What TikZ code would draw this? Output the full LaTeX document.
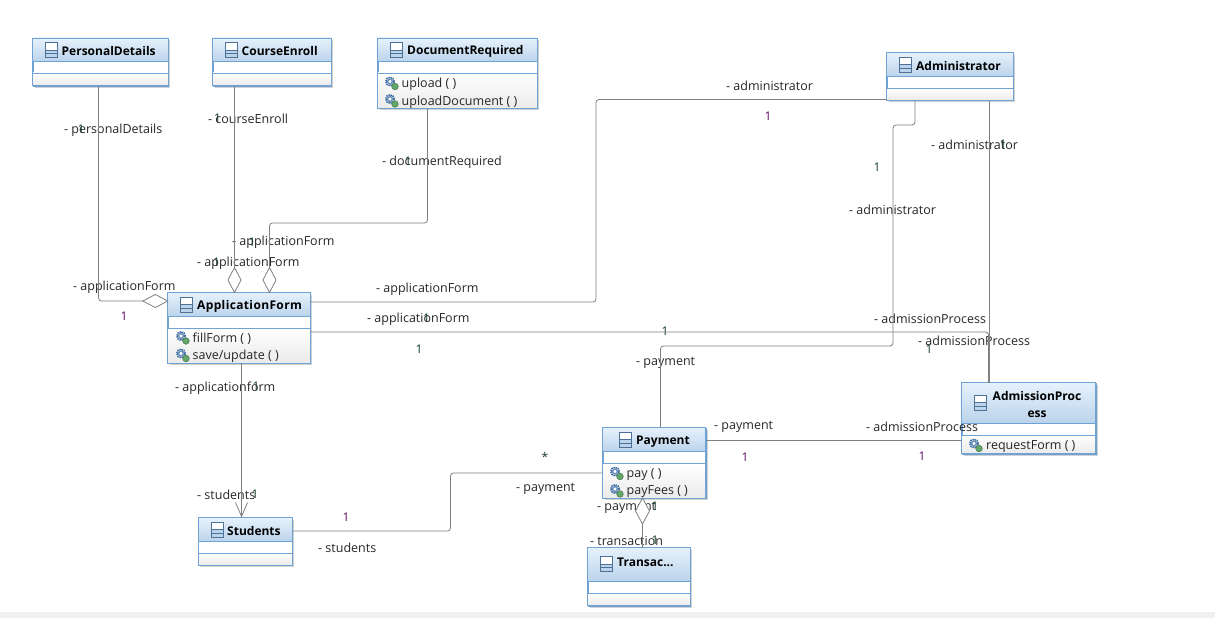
\documentclass[tikz,border=0pt]{standalone}
\usepackage{fontspec}
\setmainfont{Open Sans}
\usetikzlibrary{arrows.meta,shapes.geometric,shadows}

\definecolor{classBorder}{HTML}{6FA3D6}
\definecolor{titleTop}{HTML}{E6F2FC}
\definecolor{titleBottom}{HTML}{BBD3EB}
\definecolor{assocGray}{HTML}{808080}
\definecolor{multPurple}{HTML}{5E0A62}
\definecolor{multGreen}{HTML}{0F3D22}
\definecolor{gearBlue}{HTML}{3F6FA3}
\definecolor{gearGreen}{HTML}{62A868}

\tikzset{
  assoc/.style={draw=assocGray, line width=0.8pt, rounded corners=3pt},
  aggregate/.style={diamond, draw=assocGray, fill=white, line width=0.8pt, inner sep=0pt, outer sep=0pt},
  classBox/.style={draw=classBorder, fill=white, line width=0.9pt, inner sep=0pt, rectangle, anchor=north west,
    drop shadow={shadow xshift=2pt, shadow yshift=-2pt, fill=black, opacity=0.18}},
  classTitle/.style={font=\fontsize{12}{16.5}\selectfont\bfseries, inner sep=0pt, align=center, text=black, yshift=-1pt},
  method/.style={font=\fontsize{12.5}{14}\selectfont, inner sep=0pt, anchor=west, text=black!85, yshift=-1pt},
  role/.style={font=\fontsize{12.5}{14}\selectfont, inner sep=0pt, anchor=west, text=black!85, yshift=-1pt},
  mult/.style={font=\fontsize{12}{13}\selectfont, inner sep=0pt, text=#1},
  mult/.default=multPurple
}

% name, x0, y0, x1, title bottom, line, bottom
\newcommand{\classbox}[7]{
  \pgfmathsetmacro{\boxw}{#4-#2}
  \pgfmathsetmacro{\boxh}{#7-#3}
  \node[classBox, minimum width=\boxw pt, minimum height=\boxh pt] (#1) at (#2,#3) {};
  \fill[top color=titleTop, bottom color=titleBottom] (#2,#3) rectangle (#4,#5);
  \fill[top color=white, bottom color=black!8] (#2,#6) rectangle (#4,#7);
  \draw[classBorder, line width=0.9pt] (#2,#3) rectangle (#4,#7);
  \draw[classBorder, line width=0.9pt] (#2,#5) -- (#4,#5);
  \draw[classBorder, line width=0.9pt] (#2,#6) -- (#4,#6);
}
\newcommand{\classicon}[2]{
  \begin{scope}[shift={(#1,#2)}]
    \fill[white] (0,0) rectangle (12,7.5);
    \fill[titleBottom] (0,7.5) rectangle (12,15);
    \draw[classBorder!70!black, line width=0.8pt] (0,0) rectangle (12,15);
    \draw[classBorder!70!black, line width=0.8pt] (0,7.5) -- (12,7.5) (0,11) -- (12,11);
  \end{scope}
}
% gear centre
\newcommand{\gearicon}[2]{
  \begin{scope}[shift={(#1,#2)}]
    \draw[gearBlue, dash pattern=on 1.4pt off 0.8pt, line width=1.7pt] (0,0) circle (4.2pt);
    \draw[gearBlue!75, line width=1.5pt, fill=white] (0,0) circle (2.4pt);
    \fill[gearGreen, draw=gearGreen!70!black, line width=0.5pt] (5,5) circle (3.3pt);
  \end{scope}
}

\begin{document}
\begin{tikzpicture}[x=1pt, y=-1pt]
\useasboundingbox (0,0) rectangle (1215,618);
\fill[black!6] (0,612) rectangle (1215,618);

% classes
\classbox{personalDetails}{32.5}{38}{168}{61.5}{73}{85.5}
\classicon{45}{42.5}
\node[classTitle, anchor=west] (personalDetailsTitle) at (61.5,50) {PersonalDetails};
\classbox{courseEnroll}{212.5}{38}{331}{61.5}{73}{85.5}
\classicon{225}{42.5}
\node[classTitle, anchor=west] (courseEnrollTitle) at (241.5,50) {CourseEnroll};
\classbox{documentRequired}{377.5}{38}{537}{61.5}{73}{108}
\classicon{390.5}{42.5}
\node[classTitle, anchor=west] (documentRequiredTitle) at (407,50) {DocumentRequired};
\classbox{administrator}{886.5}{52.5}{1013}{76.5}{88}{100}
\classicon{899.5}{57}
\node[classTitle, anchor=west] (administratorTitle) at (916,65) {Administrator};
\classbox{applicationForm}{167.5}{292.5}{310}{316.5}{328}{363}
\classicon{180.5}{297}
\node[classTitle, anchor=west] (applicationFormTitle) at (197,305) {\addfontfeature{LetterSpace=3}ApplicationForm};
\classbox{payment}{602.5}{427.5}{705.5}{451.5}{463}{498}
\classicon{619.5}{432}
\node[classTitle, anchor=west] (paymentTitle) at (636,441) {Payment};
\classbox{students}{198}{517.5}{292}{541.5}{553}{565}
\classicon{211}{522}
\node[classTitle, anchor=west] (studentsTitle) at (227,530) {Students};
\classbox{transaction}{587.5}{547.5}{690}{581.5}{593}{605.5}
\classicon{600.5}{556.5}
\node[classTitle, anchor=west] (transactionTitle) at (617,561) {Transac...};
\classbox{admissionProcess}{961.5}{382.5}{1095.5}{423}{435}{453.5}
\classicon{974.5}{395}
\node[classTitle] (admissionProcessTitle) at (1037,403.5) {AdmissionProc\\ess};

% methods
\gearicon{390}{81.5}
\node[method] (upload) at (401.5,83.5) {upload ( )};
\gearicon{390}{99}
\node[method] (uploadDocument) at (401.5,101) {uploadDocument ( )};
\gearicon{181}{336}
\node[method] (fillForm) at (192.5,338) {fillForm ( )};
\gearicon{181}{353.5}
\node[method] (saveUpdate) at (192.5,355.5) {save/update ( )};
\gearicon{615}{471.5}
\node[method] (pay) at (626.5,473.5) {pay ( )};
\gearicon{615}{489}
\node[method] (payFees) at (626.5,491) {payFees ( )};
\gearicon{974}{443.5}
\node[method] (requestForm) at (986,445.5) {requestForm ( )};

% role names
\node[role] (r1) at (64,129.5) {- personalDetails};
\node[role] (r2) at (208,118) {- courseEnroll};
\node[role] (r3) at (382,161) {- documentRequired};
\node[role] (r4) at (726,85) {- administrator};
\node[role] (r5) at (931,143.5) {- administrator};
\node[role] (r6) at (849,208.5) {- administrator};
\node[role] (r7) at (232,241.5) {- applicationForm};
\node[role] (r8) at (197,262.5) {- applicationForm};
\node[role] (r9) at (73,286) {- applicationForm};
\node[role] (r10) at (376,288) {- applicationForm};
\node[role] (r11) at (367,318) {- applicationForm};
\node[role] (r12) at (175,387) {- applicationform};
\node[role] (r13) at (874,318) {- admissionProcess};
\node[role] (r14) at (918,340) {- admissionProcess};
\node[role] (r15) at (866,425.5) {- admissionProcess};
\node[role] (r16) at (636,361.5) {- payment};
\node[role] (r17) at (714,425.5) {- payment};
\node[role] (r18) at (516,488) {- payment};
\node[role] (r19) at (597,506.5) {- payment};
\node[role] (r20) at (197,494) {- students};
\node[role] (r21) at (318,546.5) {- students};
\node[role] (r22) at (590,540) {- transaction};

% multiplicities
\node[mult] (m1) at (124,316) {1};
\node[mult] (m2) at (768,116) {1};
\node[mult=multGreen] (m3) at (877,167) {1};
\node[mult=multGreen] (m4) at (665,331) {1};
\node[mult=multGreen] (m5) at (419,349) {1};
\node[mult=multGreen] (m6) at (929,349) {1};
\node[mult] (m7) at (745,457) {1};
\node[mult] (m8) at (922,456) {1};
\node[mult] (m9) at (346,517) {1};
\node[mult=multGreen] (m10) at (545,457) {*};
\node[mult=multGreen] (m11) at (81,129) {1};
\node[mult=multGreen] (m12) at (217.5,118) {1};
\node[mult=multGreen] (m13) at (408,161) {1};
\node[mult=multGreen] (m14) at (252,242) {1};
\node[mult=multGreen] (m15) at (216.5,262) {1};
\node[mult=multGreen] (m16) at (256,386) {1};
\node[mult=multGreen] (m17) at (255,494) {1};
\node[mult=multGreen] (m18) at (1003,144) {1};
\node[mult=multGreen] (m19) at (426.5,318) {1};
\node[mult=multGreen] (m20) at (655,506) {1};
\node[mult=multGreen] (m21) at (655,540) {1};

% aggregation diamonds
\node[aggregate, minimum width=25pt, minimum height=13pt] (pdDiamond) at (155.3,301) {};
\node[aggregate, minimum width=13pt, minimum height=25pt] (ceDiamond) at (234.5,280) {};
\node[aggregate, minimum width=13pt, minimum height=25pt] (drDiamond) at (269.5,280) {};
\node[aggregate, minimum width=14pt, minimum height=26pt] (txDiamond) at (642.5,511) {};

% associations
\coordinate (pdBend) at (98.5,301);
\draw[assoc] (personalDetails.south -| pdBend) -- (pdBend) -- (pdDiamond.west);
\draw[assoc] (courseEnroll.south -| ceDiamond) -- (ceDiamond.north);
\coordinate (drBendA) at (427.5,223);
\coordinate (drBendB) at (269.5,223);
\draw[assoc] (documentRequired.south -| drBendA) -- (drBendA) -- (drBendB) -- (drDiamond.north);
\coordinate (afStart) at (310,302);
\coordinate (adBendA) at (596,302);
\coordinate (adBendB) at (596,99.5);
\draw[assoc] (afStart) -- (adBendA) -- (adBendB) -- (adBendB -| administrator.west);
\coordinate (payTop) at (660.5,346);
\coordinate (adPayA) at (915,125);
\coordinate (adPayB) at (893,125);
\coordinate (adPayC) at (893,346);
\draw[assoc] (administrator.south -| adPayA) -- (adPayA) -- (adPayB) -- (adPayC) -- (payTop) -- (payTop |- payment.north);
\coordinate (adProc) at (989.5,332);
\coordinate (afProc) at (988.6,332);
\draw[assoc] (administrator.south -| adProc) -- (adProc |- admissionProcess.north);
\draw[assoc] (afProc -| applicationForm.east) -- (afProc) -- (afProc |- admissionProcess.north);
\coordinate (stTop) at (241.5,363);
\draw[assoc, -{Straight Barb[length=14pt,width=12pt]}] (stTop) -- (stTop |- students.north);
\coordinate (payRow) at (705.5,440);
\draw[assoc] (payRow) -- (payRow -| admissionProcess.west);
\coordinate (stBendA) at (450.5,531);
\coordinate (stBendB) at (450.5,473);
\draw[assoc] (stBendA -| students.east) -- (stBendA) -- (stBendB) -- (stBendB -| payment.west);
\draw[assoc] (txDiamond.south) -- (txDiamond.south |- transaction.north);
\end{tikzpicture}
\end{document}
